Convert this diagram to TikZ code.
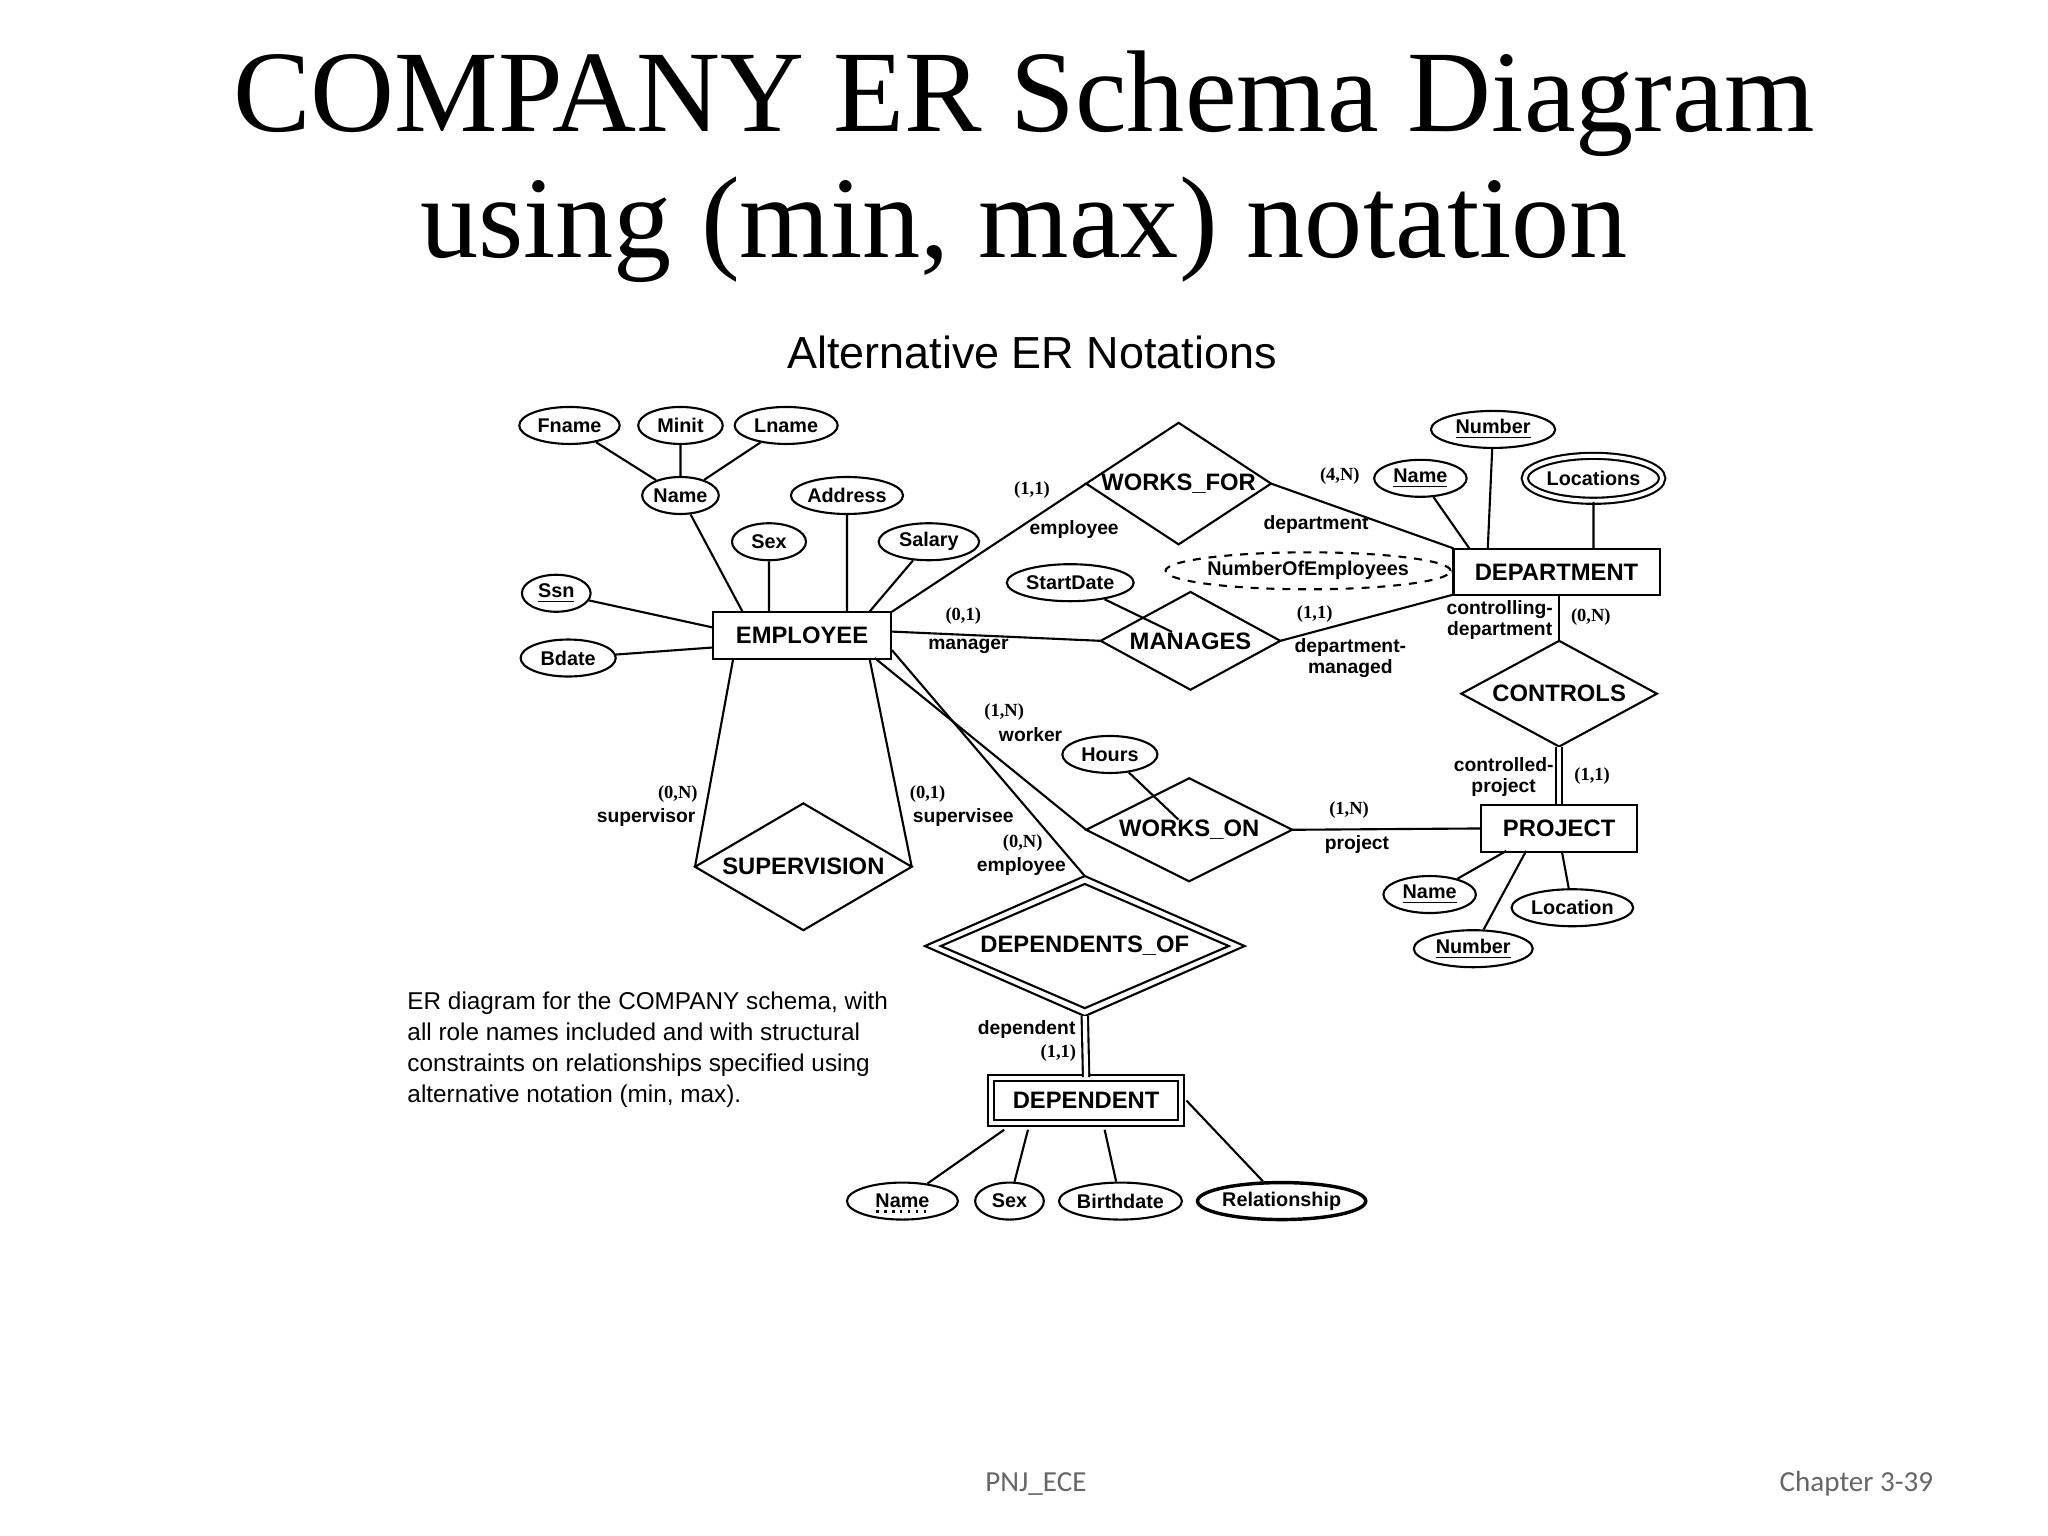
\documentclass[tikz,border=0pt]{standalone}
\usepackage{fontspec}
\setmainfont{Liberation Sans}
\newfontfamily\tnr{Liberation Serif}
\newfontfamily\carlfont{Carlito}
\usetikzlibrary{shapes.geometric}
\newcommand{\dia}[6]{% name, cx, cy, halfw, halfh, text
  \coordinate (#1-l) at (#2-#4,#3); \coordinate (#1-r) at (#2+#4,#3);
  \coordinate (#1-t) at (#2,#3-#5); \coordinate (#1-b) at (#2,#3+#5);
  \draw[ln] (#1-l)--(#1-t)--(#1-r)--(#1-b)--cycle;
  \node[lab] (#1) at (#2,#3) {#6};}
\begin{document}
\begin{tikzpicture}[x=0.5pt,y=-0.5pt,
  ln/.style={line width=0.8pt},
  lab/.style={font=\bfseries\fontsize{9}{10}\selectfont,inner sep=0},
  ent/.style={draw,ln,font=\bfseries\fontsize{9}{10}\selectfont,inner sep=0,minimum height=17.5pt},
  ell/.style={draw,ln,ellipse,inner sep=0,minimum width=#1*0.5pt,minimum height=14pt,font=\bfseries\fontsize{7.5}{8}\selectfont},
  role/.style={font=\bfseries\fontsize{7.3}{8}\selectfont,inner sep=0,align=center},
  card/.style={font=\tnr\bfseries\fontsize{7}{8}\selectfont,inner sep=0},
  dbl/.style={ln,double,double distance=1.6pt}]
\useasboundingbox (0,0) rectangle (1550,1162);
\node (t) at (775,128) {\tnr\fontsize{44}{48}\selectfont\begin{tabular}{c}COMPANY ER Schema Diagram\\using (min, max) notation\end{tabular}};
\node (st) at (781,267) {\fontsize{17}{20}\selectfont Alternative ER Notations};
% entities
\node[ent,minimum width=67.5pt] (emp) at (607,481) {EMPLOYEE};
\node[ent,minimum width=78pt] (dept) at (1178,433) {DEPARTMENT};
\node[ent,minimum width=59pt] (proj) at (1180,627) {PROJECT};
\node[ent,minimum width=72pt,minimum height=17pt,double,double distance=1.6pt] (dep) at (822,833) {DEPENDENT};
% relationships
\dia{wf}{892}{366}{70}{46}{WORKS\_FOR}
\dia{man}{901}{485}{68}{37}{MANAGES}
\dia{con}{1180}{525}{74}{40}{CONTROLS}
\dia{won}{900}{628}{78}{39}{WORKS\_ON}
\dia{sup}{608}{656}{82}{48}{SUPERVISION}
\dia{dof}{821}{716}{121}{53}{DEPENDENTS\_OF}
\draw[ln] (821-109,716)--(821,716-47)--(821+109,716)--(821,716+47)--cycle;
% attributes
\node[ell=76] (fn) at (431,322) {Fname};
\node[ell=64] (mi) at (515,322) {Minit};
\node[ell=78] (lnm) at (595,322) {Lname};
\node[ell=58] (nm) at (515,375) {Name};
\node[ell=84] (adr) at (641,375) {Address};
\node[ell=56] (sx) at (582,410) {Sex};
\node[ell=76] (sal) at (703,410) {Salary};
\node[ell=52] (ssn) at (421,449) {\underline{Ssn}};
\node[ell=72] (bd) at (430,498) {Bdate};
\node[ell=94] (dnum) at (1130,325) {\underline{Number}};
\node[ell=70] (dnm) at (1075,362) {\underline{Name}};
\node[ell=104,minimum height=17pt,double,double distance=1.5pt] (loc) at (1206,362) {Locations};
\node[ell=210,dashed] (noe) at (990,432) {NumberOfEmployees};
\node[ell=96] (sd) at (810,441) {StartDate};
\node[ell=72] (hr) at (840,571) {Hours};
\node[ell=70] (pnm) at (1082,677) {\underline{Name}};
\node[ell=92] (plc) at (1190,687) {Location};
\node[ell=90] (pnum) at (1115,718) {\underline{Number}};
\node[ell=84] (dn) at (683,909) {Name};
\draw[dotted,line width=1pt] (663,917)--(703,917);
\node[ell=52] (dsx) at (764,909) {Sex};
\node[ell=90] (dbd) at (848,909) {Birthdate};
\node[ell=122,line width=1.3pt] (drel) at (970,909) {Relationship};
% attribute links
\draw[ln] (fn)--(nm) (mi)--(nm) (lnm)--(nm);
\draw[ln] (nm)--(562,463) (sx)--(582,463) (adr)--(641,463) (sal)--(658,463);
\draw[ln] (ssn)--(540,475) (bd)--(540,490);
\draw[ln] (dnm)--(1112,415) (dnum)--(1126,415) (loc)--(1206,415) (noe)--(dept);
\draw[ln] (sd)--(man) (hr)--(won);
\draw[ln] (pnm)--(1140,644) (pnum)--(1155,644) (plc)--(1182,644);
\draw[ln] (dn)--(760,855) (dsx)--(778,855) (dbd)--(836,855) (drel)--(898,833);
% relationship links
\draw[ln] (675,463)--(wf-l) (wf-r)--(1100,415);
\draw[ln] (675,478)--(man-l) (man-r)--(1100,450);
\draw[ln] (1180,450)--(con-t);
\draw[dbl] (con-b)--(proj.north);
\draw[ln] (662,498)--(won-l) (won-r)--(proj.west);
\draw[ln] (675,492)--(dof-t);
\draw[ln] (555,498)--(sup-l) (658,498)--(sup-r);
\draw[dbl] (dof-b)--(dep.north);
% role labels
\node[card] at (781,371) {(1,1)};
\node[role] at (813,401) {employee};
\node[card] at (1014,360) {(4,N)};
\node[role] at (996,397) {department};
\node[card] at (729,466) {(0,1)};
\node[role] at (733,489) {manager};
\node[card] at (995,465) {(1,1)};
\node[role] at (1022,498) {department-\\managed};
\node[role] at (1135,469) {controlling-\\department};
\node[card] at (1204,467) {(0,N)};
\node[card] at (760,539) {(1,N)};
\node[role] at (780,556) {worker};
\node[card] at (513,601) {(0,N)};
\node[role] at (489,619) {supervisor};
\node[card] at (702,601) {(0,1)};
\node[role] at (729,619) {supervisee};
\node[card] at (774,638) {(0,N)};
\node[role] at (773,656) {employee};
\node[role] at (1138,588) {controlled-\\project};
\node[card] at (1205,587) {(1,1)};
\node[card] at (1021,613) {(1,N)};
\node[role] at (1027,639) {project};
\node[role] at (777,779) {dependent};
\node[card] at (801,797) {(1,1)};
\node[anchor=north west,align=left,inner sep=0,font=\fontsize{9.2}{11.8}\selectfont] (cap) at (308,750) {ER diagram for the COMPANY schema, with\\all role names included and with structural\\constraints on relationships specified using\\alternative notation (min, max).};
\node[text=gray!80!black,font=\carlfont\fontsize{11}{12}\selectfont] (f1) at (784,1123) {PNJ\_ECE};
\node[text=gray!80!black,font=\carlfont\fontsize{11}{12}\selectfont] (f2) at (1405,1123) {Chapter 3-39};
\end{tikzpicture}
\end{document}
